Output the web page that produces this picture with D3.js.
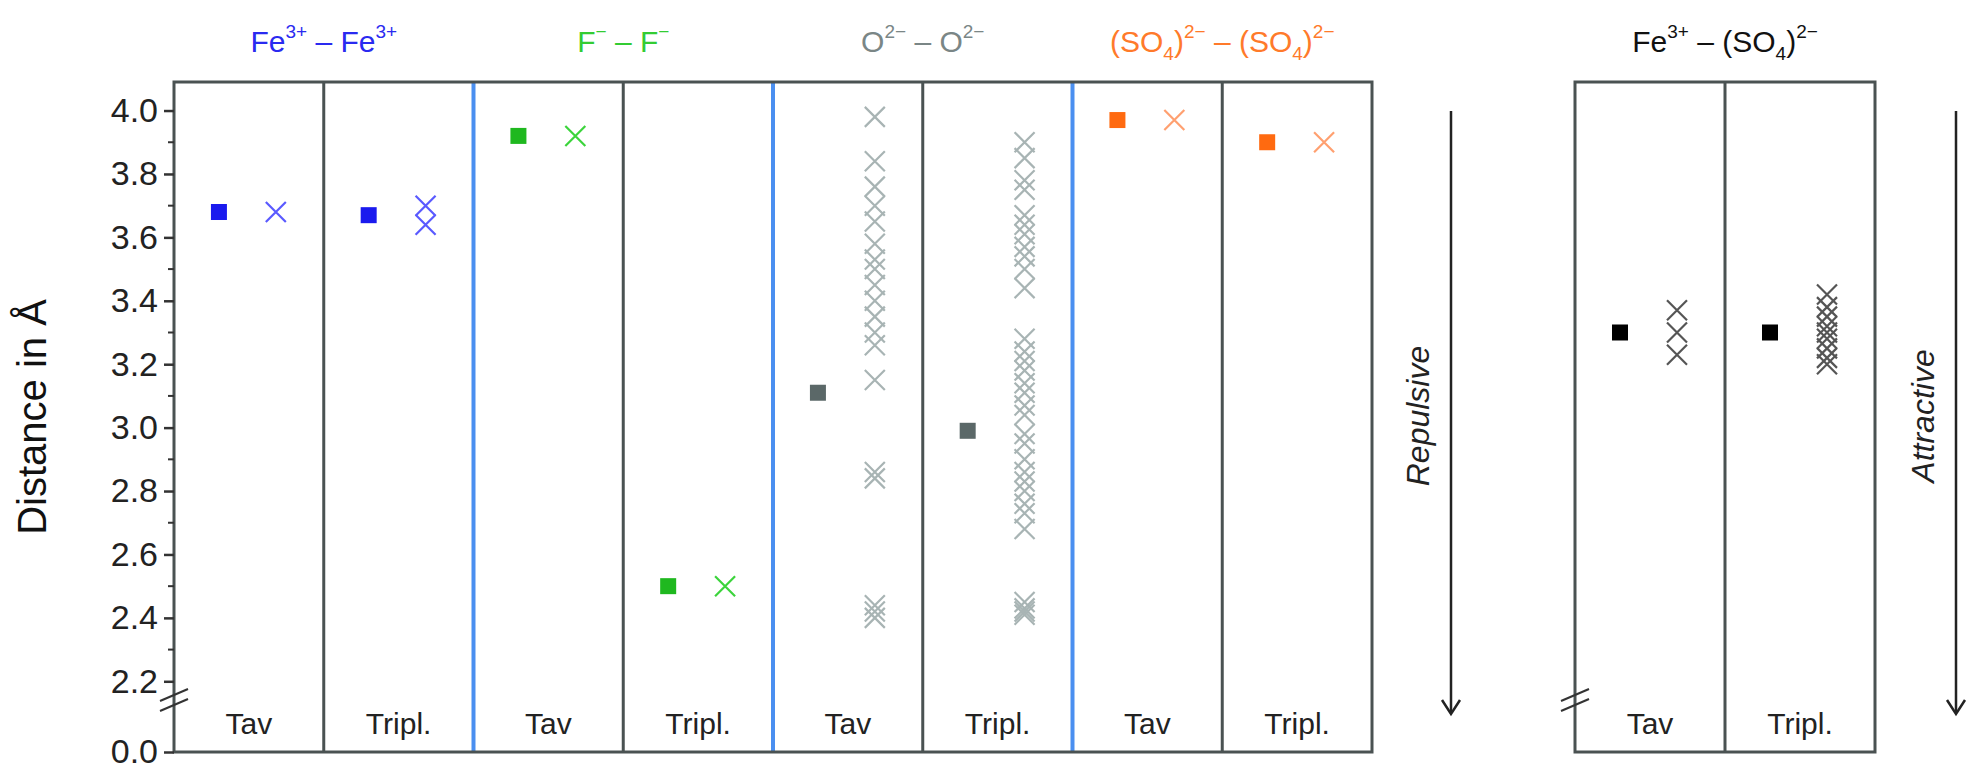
<!DOCTYPE html>
<html lang="en">
<head>
<meta charset="UTF-8">
<title>Distance in Å</title>
<script src="https://cdn.jsdelivr.net/npm/d3@7"></script>
<style>
  body { margin: 0; background: #fff; }
  text { font-family: "Liberation Sans", Arial, sans-serif; }
</style>
</head>
<body>
<svg id="chart" width="1979" height="777"></svg>
<script>
// panel order: Fe-Fe Tav, Fe-Fe Tripl, F-F Tav, F-F Tripl, O-O Tav, O-O Tripl, SO4 Tav, SO4 Tripl
var panelLabels = ['Tav', 'Tripl.', 'Tav', 'Tripl.', 'Tav', 'Tripl.', 'Tav', 'Tripl.'];
var squareVals = [3.68, 3.67, 3.92, 2.50, 3.11, 2.99, 3.97, 3.90];
var crossVals = [
  [3.68],
  [3.70, 3.64],
  [3.92],
  [2.50],
  [3.98, 3.84, 3.76, 3.70, 3.65, 3.58, 3.53, 3.50, 3.45, 3.40, 3.35, 3.30, 3.26, 3.15, 2.86, 2.84, 2.44, 2.42, 2.40],
  [3.90, 3.85, 3.78, 3.75, 3.67, 3.64, 3.61, 3.57, 3.54, 3.50, 3.44, 3.28, 3.24, 3.21, 3.18, 3.14, 3.11, 3.07, 3.04, 2.98, 2.95, 2.90, 2.86, 2.83, 2.80, 2.76, 2.73, 2.68, 2.45, 2.43, 2.42, 2.41],
  [3.97],
  [3.90]
];
var squareColors = ['#1a1aee', '#1a1aee', '#1fb81f', '#1fb81f', '#5b6868', '#5b6868', '#ff6a10', '#ff6a10'];
var crossColors = ['#5a5aff', '#5a5aff', '#3cd43c', '#3cd43c', '#a8b4b4', '#a8b4b4', '#ffa070', '#ffa070'];

// Fe3+ - (SO4)2- panel
var attrLabels = ['Tav', 'Tripl.'];
var attrSquares = [3.30, 3.30];
var attrCrosses = [
  [3.37, 3.30, 3.23],
  [3.42, 3.38, 3.35, 3.32, 3.30, 3.28, 3.25, 3.22, 3.20]
];

var yTicks = [0.0, 2.2, 2.4, 2.6, 2.8, 3.0, 3.2, 3.4, 3.6, 3.8, 4.0];
var yMinor = [2.3, 2.5, 2.7, 2.9, 3.1, 3.3, 3.5, 3.7, 3.9];

var svg = d3.select('#chart');
var plotTop = 82, plotBottom = 752;

// broken axis: 0 .. 2.1 squeezed into the bottom strip
var y = d3.scaleLinear().domain([0, 2.1, 4.09]).range([plotBottom, 713, plotTop]);

var x = d3.scaleBand().domain(d3.range(8)).range([174, 1372]).padding(0);
var xr = d3.scaleBand().domain(d3.range(2)).range([1575, 1875]).padding(0);

function crossPath(cx, cy, r) {
  return 'M' + (cx - r) + ',' + (cy - r) + 'L' + (cx + r) + ',' + (cy + r) +
         'M' + (cx - r) + ',' + (cy + r) + 'L' + (cx + r) + ',' + (cy - r);
}

function drawPanels(scale, n, labels, squares, sqCol, crosses, crCol, blueAt) {
  var g = svg.append('g');
  var bw = scale.bandwidth();
  for (var i = 0; i < n; i++) {
    var x0 = scale(i);
    g.selectAll(null).data(crosses[i]).enter().append('path')
      .attr('d', function(d) { return crossPath(x0 + bw * 0.68, y(d), 10); })
      .attr('stroke', crCol[i]).attr('stroke-width', 2.2).attr('fill', 'none');
    g.append('rect')
      .attr('x', x0 + bw * 0.3 - 8).attr('y', y(squares[i]) - 8)
      .attr('width', 16).attr('height', 16).attr('fill', sqCol[i]);
    g.append('text').attr('x', x0 + bw / 2).attr('y', 734)
      .attr('text-anchor', 'middle').attr('font-size', 30).attr('fill', '#222')
      .text(labels[i]);
  }
  for (var j = 1; j < n; j++) {
    var blue = blueAt.indexOf(j) >= 0;
    g.append('line').attr('x1', scale(j)).attr('x2', scale(j))
      .attr('y1', plotTop).attr('y2', plotBottom)
      .attr('stroke', blue ? '#4a8ff0' : '#4a5252').attr('stroke-width', blue ? 4 : 3);
  }
  g.append('rect').attr('x', scale.range()[0]).attr('y', plotTop)
    .attr('width', scale.range()[1] - scale.range()[0]).attr('height', plotBottom - plotTop)
    .attr('fill', 'none').attr('stroke', '#4a5252').attr('stroke-width', 3);
  // axis break marks on the left edge
  var bx = scale.range()[0], by = 700;
  [-5, 5].forEach(function(o) {
    g.append('line').attr('x1', bx - 14).attr('y1', by + o + 6).attr('x2', bx + 14).attr('y2', by + o - 6)
      .attr('stroke', '#333').attr('stroke-width', 2);
  });
}

drawPanels(x, 8, panelLabels, squareVals, squareColors, crossVals, crossColors, [2, 4, 6]);
drawPanels(xr, 2, attrLabels, attrSquares, ['#000', '#000'], attrCrosses, ['#555', '#555'], []);

// y axis
var yAxis = d3.axisLeft(y).tickValues(yTicks).tickFormat(d3.format('.1f')).tickSize(10).tickPadding(6);
var ga = svg.append('g').attr('transform', 'translate(174,0)').call(yAxis);
ga.select('.domain').remove();
ga.selectAll('.tick line').attr('stroke', '#333').attr('stroke-width', 2.5);
ga.selectAll('.tick text').attr('font-size', 34).attr('fill', '#222')
  .attr('font-family', '"Liberation Sans", Arial, sans-serif');
svg.append('g').selectAll('line').data(yMinor).enter().append('line')
  .attr('x1', 168).attr('x2', 174).attr('y1', y).attr('y2', y)
  .attr('stroke', '#333').attr('stroke-width', 2);

svg.append('text').attr('transform', 'translate(46,' + (plotTop + plotBottom) / 2 + ') rotate(-90)')
  .attr('text-anchor', 'middle').attr('font-size', 40).attr('fill', '#111').text('Distance in Å');

// group titles
function title(cx, parts, color) {
  var t = svg.append('text').attr('x', cx).attr('y', 52).attr('text-anchor', 'middle')
    .attr('font-size', 30).attr('fill', color);
  parts.forEach(function(p) {
    t.append('tspan').attr('dy', p.dy || 0).attr('font-size', p.s || 30).text(p.t);
  });
}
function ionPair(a, aSup, b, bSup, subA, subB) {
  var p = [];
  p.push({t: a});
  if (subA) { p.push({t: subA, dy: 8, s: 19}); p.push({t: ')', dy: -8}); }
  p.push({t: aSup, dy: -14, s: 19});
  p.push({t: ' – ', dy: 14});
  p.push({t: b});
  if (subB) { p.push({t: subB, dy: 8, s: 19}); p.push({t: ')', dy: -8}); }
  p.push({t: bSup, dy: -14, s: 19});
  return p;
}
title(x(1), ionPair('Fe', '3+', 'Fe', '3+'), '#2a2af0');
title(x(3), ionPair('F', '−', 'F', '−'), '#33cc33');
title(x(5), ionPair('O', '2−', 'O', '2−'), '#7a8686');
title(x(7), ionPair('(SO', '2−', '(SO', '2−', '4', '4'), '#ff7a2a');
title(xr(1), ionPair('Fe', '3+', '(SO', '2−', null, '4'), '#111');

// direction arrows
function arrow(ax, label) {
  svg.append('line').attr('x1', ax).attr('x2', ax).attr('y1', 111).attr('y2', 712)
    .attr('stroke', '#222').attr('stroke-width', 2.5);
  svg.append('path').attr('d', 'M' + (ax - 9) + ',700L' + ax + ',714L' + (ax + 9) + ',700')
    .attr('stroke', '#222').attr('stroke-width', 2.5).attr('fill', 'none');
  svg.append('text').attr('transform', 'translate(' + (ax - 22) + ',416) rotate(-90)')
    .attr('text-anchor', 'middle').attr('font-size', 32).attr('font-style', 'italic')
    .attr('fill', '#222').text(label);
}
arrow(1451, 'Repulsive');
arrow(1956, 'Attractive');
</script>
</body>
</html>
